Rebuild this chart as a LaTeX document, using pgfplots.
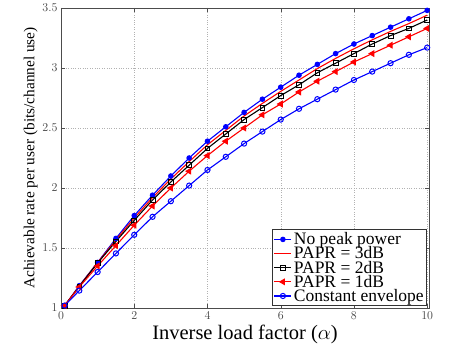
\documentclass[border=0pt]{standalone}
\usepackage{pgfplots}
\pgfplotsset{compat=1.18}
\usepackage{fontspec}
\setmainfont{Liberation Serif}
\begin{document}
\begin{tikzpicture}
\useasboundingbox (-61pt,-48pt) rectangle (413pt,308pt);
\begin{axis}[
  scale only axis, width=368pt, height=300pt,
  xmin=0, xmax=10.05, ymin=1, ymax=3.5,
  xtick={0,2,4,6,8,10}, ytick={1,1.5,2,2.5,3,3.5},
  grid=major, major grid style={dotted, gray!60},
  axis line style={gray!60!black, line width=0.8pt},
  tick style={gray!60!black},
  tick align=inside,
  ticklabel style={font=\fontsize{12.5}{12.5}\selectfont, text=black!75},
  xlabel={Inverse load factor ($\alpha$)},
  ylabel={Achievable rate per user (bits/channel use)},
  xlabel style={font=\fontsize{20.5}{20.5}\selectfont, yshift=1pt},
  ylabel style={font=\fontsize{15.3}{15.3}\selectfont, yshift=-2pt},
  legend style={at={(rel axis cs:0.995,0.006)}, anchor=south east,
    font=\fontsize{17.5}{14}\selectfont, draw=black!80, line width=0.8pt,
    inner sep=1pt, row sep=-3.5pt},
  legend cell align=left,
  every axis plot/.append style={line width=1.1pt},
]
\addplot[blue, mark=*, mark size=2.2pt] coordinates {
(0.1,1.02)(0.5,1.186)(1,1.38)(1.5,1.58)(2,1.77)(2.5,1.94)(3,2.10)(3.5,2.25)(4,2.39)(4.5,2.51)(5,2.63)(5.5,2.74)(6,2.84)(6.5,2.94)(7,3.03)(7.5,3.12)(8,3.20)(8.5,3.27)(9,3.34)(9.5,3.41)(10,3.48)};
\addlegendentry{No peak power}
\addplot[red] coordinates {
(0.1,1.02)(0.5,1.183)(1,1.378)(1.5,1.568)(2,1.75)(2.5,1.92)(3,2.075)(3.5,2.22)(4,2.36)(4.5,2.48)(5,2.60)(5.5,2.705)(6,2.805)(6.5,2.90)(7,2.995)(7.5,3.08)(8,3.16)(8.5,3.235)(9,3.305)(9.5,3.37)(10,3.44)};
\addlegendentry{PAPR = 3dB}
\addplot[black, mark=square, mark size=2.4pt, mark options={solid, line width=0.8pt}] coordinates {
(0.1,1.02)(0.5,1.18)(1,1.375)(1.5,1.555)(2,1.73)(2.5,1.90)(3,2.05)(3.5,2.19)(4,2.33)(4.5,2.45)(5,2.57)(5.5,2.67)(6,2.77)(6.5,2.86)(7,2.96)(7.5,3.04)(8,3.12)(8.5,3.20)(9,3.27)(9.5,3.33)(10,3.40)};
\addlegendentry{PAPR = 2dB}
\addplot[red, mark=triangle*, mark size=3pt, mark options={rotate=90}] coordinates {
(0.1,1.02)(0.5,1.175)(1,1.35)(1.5,1.52)(2,1.69)(2.5,1.85)(3,2.00)(3.5,2.14)(4,2.27)(4.5,2.39)(5,2.50)(5.5,2.61)(6,2.70)(6.5,2.80)(7,2.89)(7.5,2.97)(8,3.05)(8.5,3.12)(9,3.19)(9.5,3.26)(10,3.33)};
\addlegendentry{PAPR = 1dB}
\addplot[blue, mark=o, mark size=2.6pt, mark options={line width=1pt}] coordinates {
(0.1,1.02)(0.5,1.145)(1,1.30)(1.5,1.455)(2,1.61)(2.5,1.76)(3,1.89)(3.5,2.02)(4,2.15)(4.5,2.26)(5,2.37)(5.5,2.47)(6,2.57)(6.5,2.66)(7,2.74)(7.5,2.82)(8,2.90)(8.5,2.97)(9,3.04)(9.5,3.11)(10,3.17)};
\addlegendentry{Constant envelope}
\end{axis}
\end{tikzpicture}
\end{document}
